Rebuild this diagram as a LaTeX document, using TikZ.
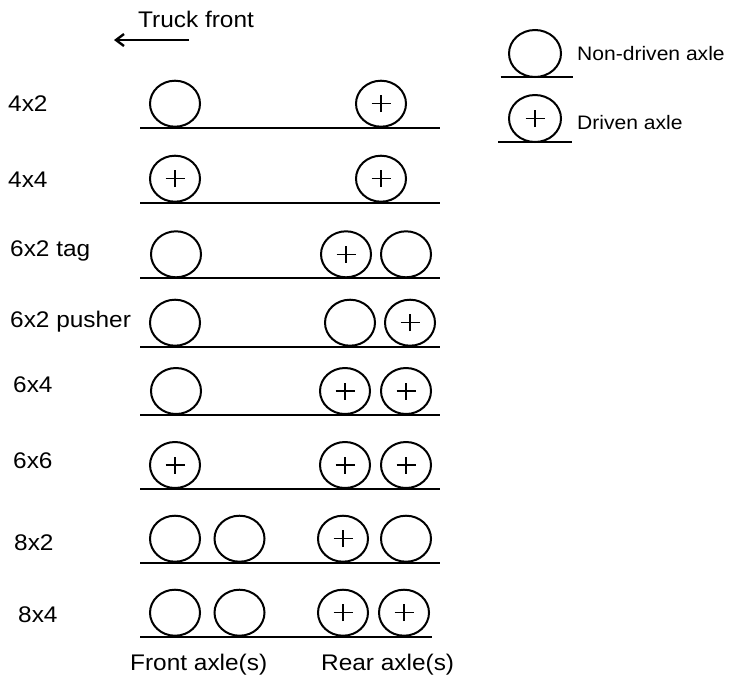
\documentclass[tikz,border=0pt]{standalone}
\usepackage{fontspec}
\setmainfont{Liberation Sans}[FakeStretch=1.08]
\usetikzlibrary{shapes.geometric,arrows.meta}

\begin{document}
\begin{tikzpicture}[x=1pt,y=-1pt,
    wheel/.style={ellipse, draw, line width=2pt, inner sep=0pt, minimum width=50pt, minimum height=46pt},
    freewheel/.style={wheel},
    drivewheel/.style={wheel, path picture={
        \draw[line width=1.5pt] ([xshift=-9.5pt]path picture bounding box.center) -- ([xshift=9.5pt]path picture bounding box.center)
          ([yshift=-8.5pt]path picture bounding box.center) -- ([yshift=8.5pt]path picture bounding box.center);}},
    ground/.style={line width=2.2pt},
    lab/.style={anchor=base west, inner sep=0pt, font=\fontsize{22.6}{26}\selectfont},
    keylab/.style={lab, font=\fontsize{19.5}{23}\selectfont}]
\useasboundingbox (0,0) rectangle (730,678);

% direction of travel
\node[lab] (truck) at (138,27) {Truck front};
\coordinate (arrowtail) at (189,40);
\coordinate (arrowtip) at (114,40);
\draw[line width=2.4pt, -{Straight Barb[length=8pt,width=12pt]}] (arrowtail) -- (arrowtip);

% one row per axle layout
\foreach \name/\lx/\ly/\gy/\gx/\wheels [count=\r] in {
  4x2/8/111/127.7/440/{175/freewheel,381/drivewheel},
  4x4/8/187/202.7/440/{175/drivewheel,381/drivewheel},
  6x2 tag/10/256/278.3/440/{176/freewheel,346/drivewheel,406/freewheel},
  6x2 pusher/10/327/346.7/440/{175/freewheel,350/freewheel,410/drivewheel},
  6x4/13/392/415/440/{176/freewheel,345/drivewheel,406/drivewheel},
  6x6/13/468/489/440/{175/drivewheel,345/drivewheel,406/drivewheel},
  8x2/14/550/562.7/440/{175/freewheel,239.5/freewheel,343/drivewheel,406/freewheel},
  8x4/18/622/636.7/432/{175/freewheel,239.5/freewheel,343/drivewheel,404/drivewheel}} {
  \node[lab] (type\r) at (\lx,\ly) {\name};
  \coordinate (left\r) at (140,\gy);
  \coordinate (right\r) at (\gx,\gy);
  \draw[ground] (left\r) -- (right\r);
  \foreach \wx/\ws [count=\k] in \wheels
    \node[\ws] (wheel\r-\k) at (\wx,\gy-24) {};
}

\node[lab] (front) at (130,670) {Front axle(s)};
\node[lab] (rear) at (321,670) {Rear axle(s)};

% legend
\node[freewheel, minimum width=52pt, minimum height=47pt] (keyfree) at (535,53.5) {};
\coordinate (keyfreeL) at (500.7,77.3);
\coordinate (keyfreeR) at (572.7,77.3);
\draw[ground] (keyfreeL) -- (keyfreeR);
\node[keylab] (keyfreetext) at (577,60.7) {Non-driven axle};

\node[drivewheel, minimum width=52pt, minimum height=47pt] (keydrive) at (535,118.5) {};
\coordinate (keydriveL) at (498,142.3);
\coordinate (keydriveR) at (571.7,142.3);
\draw[ground] (keydriveL) -- (keydriveR);
\node[keylab] (keydrivetext) at (577,129.3) {Driven axle};
\end{tikzpicture}
\end{document}
